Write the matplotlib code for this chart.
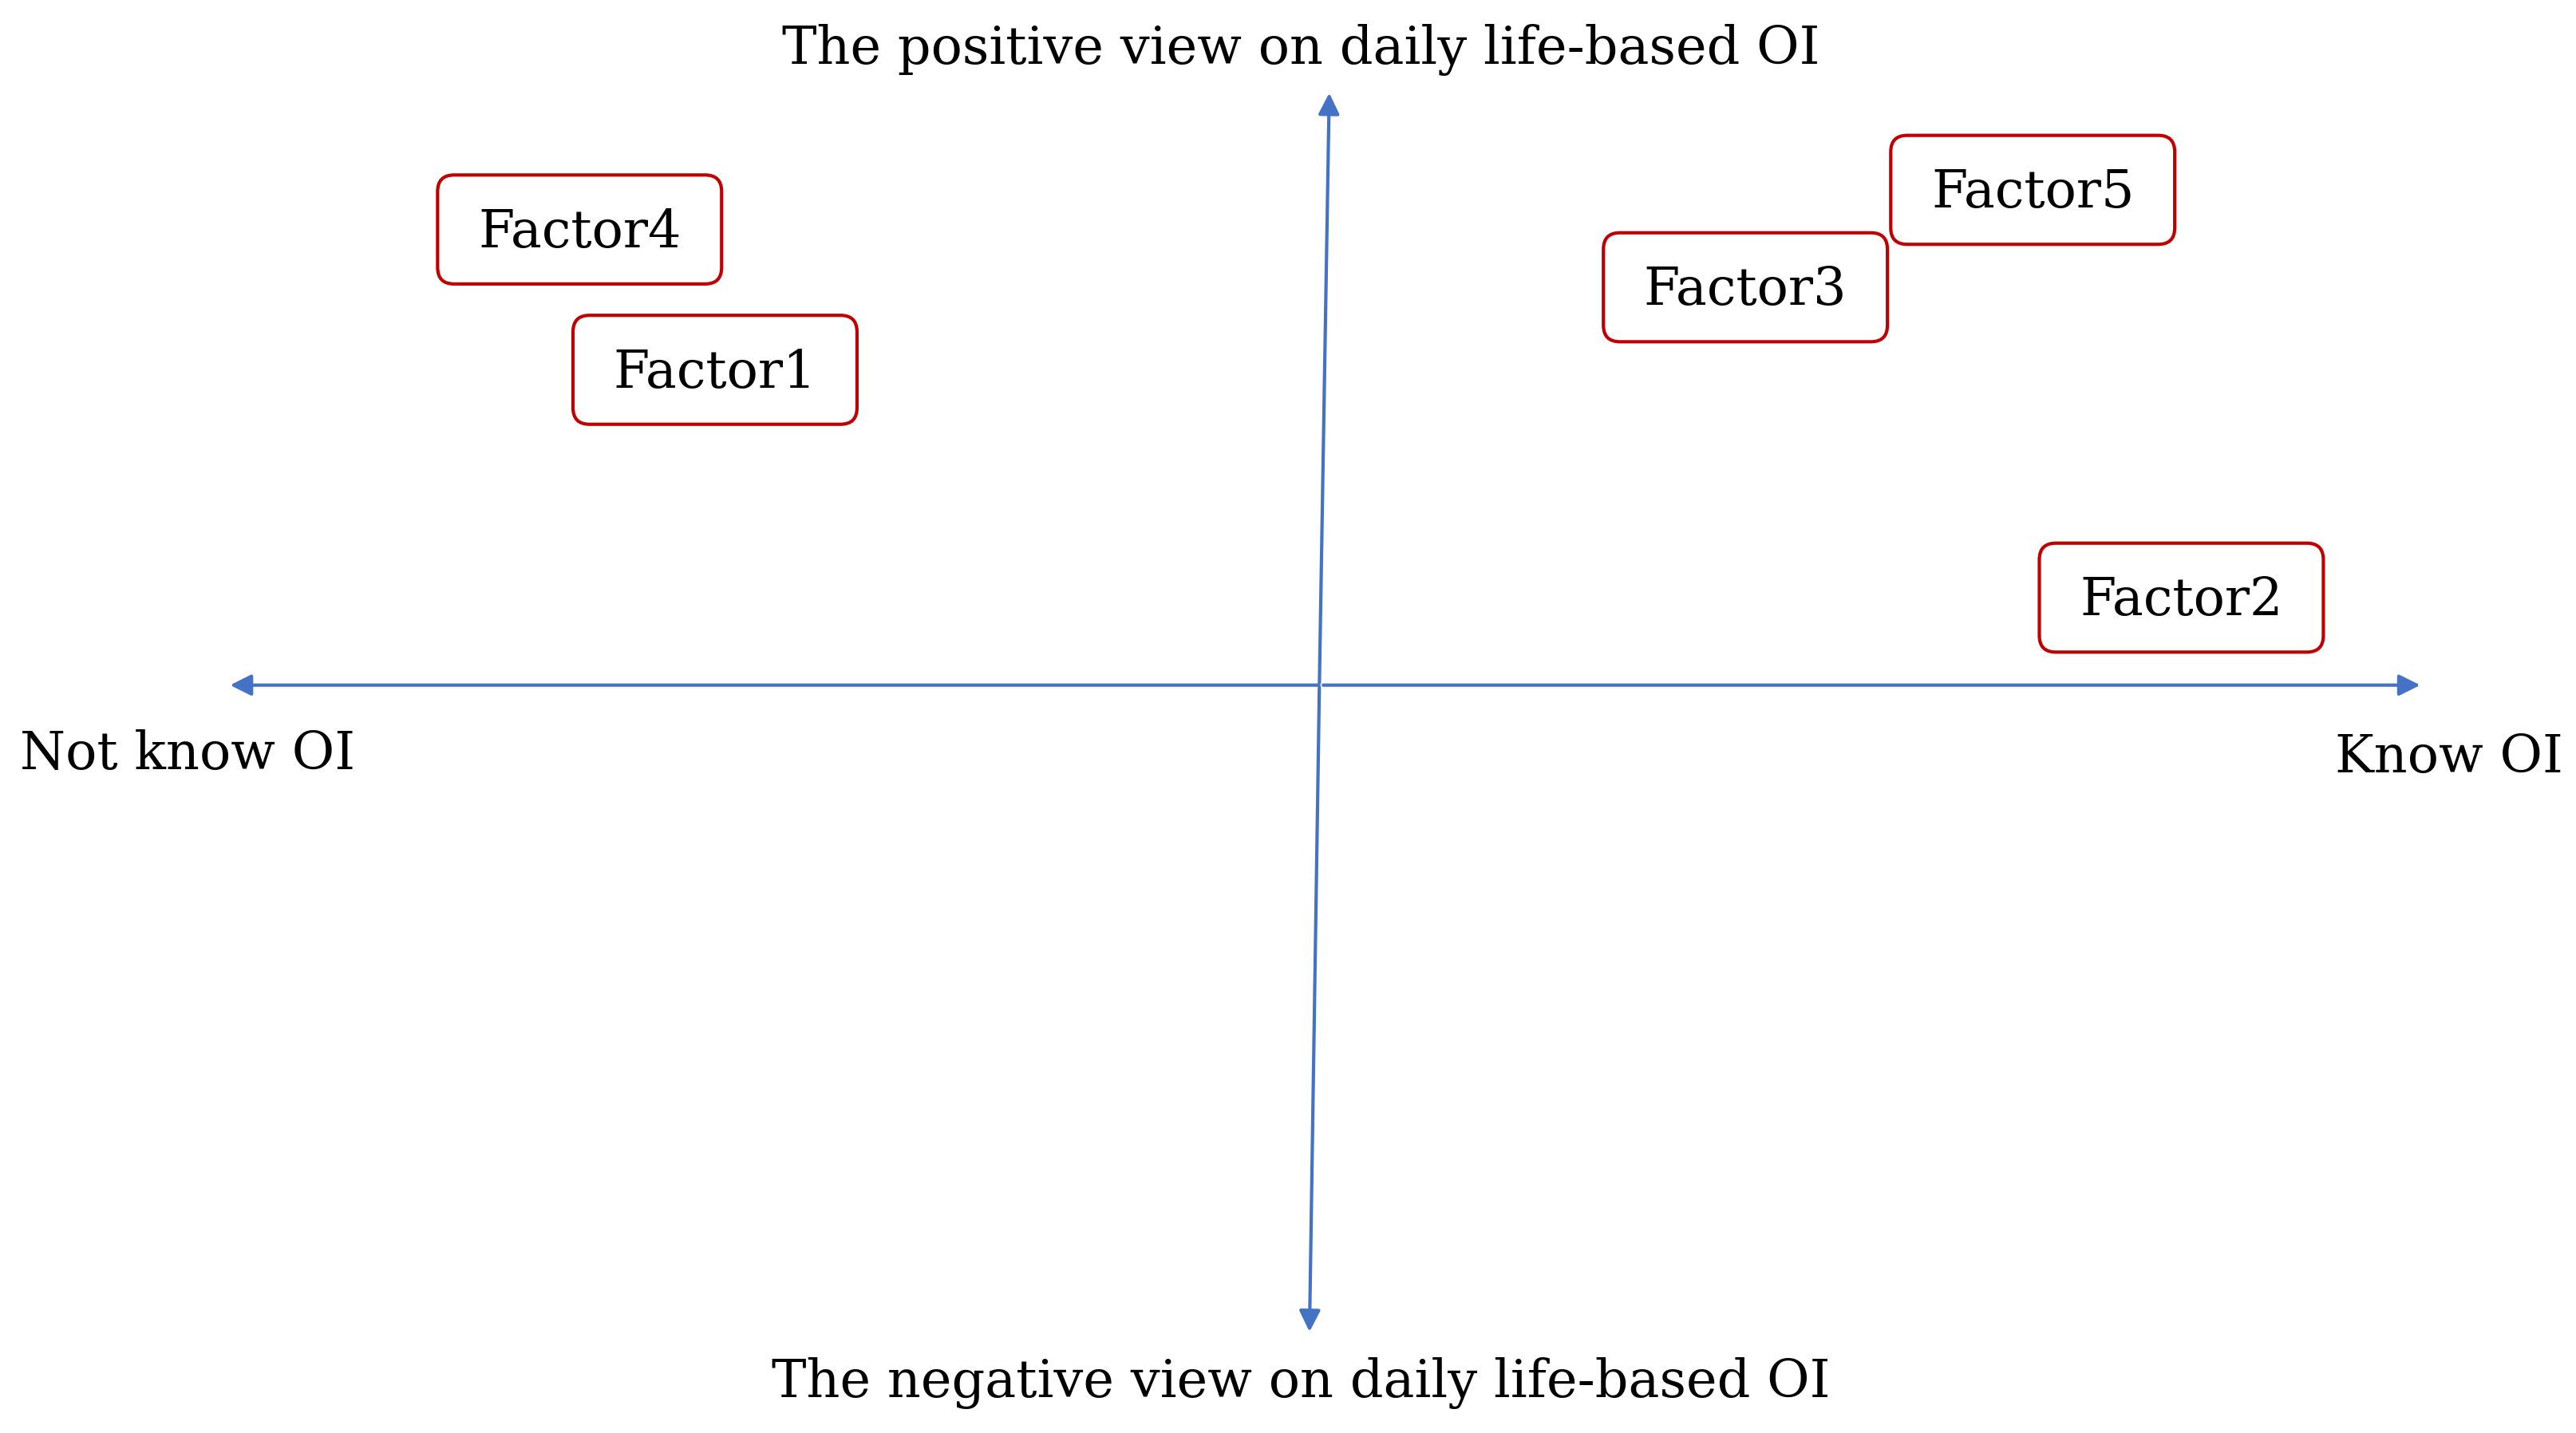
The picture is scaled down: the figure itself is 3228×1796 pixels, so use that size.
import matplotlib.pyplot as plt
from matplotlib.patches import FancyBboxPatch

# factor positions (box centres) in the picture's coordinate frame
factors = ["Factor4", "Factor1", "Factor3", "Factor5", "Factor2"]
fx = [351, 433, 1057, 1231, 1321]
fy = [139, 224, 174, 115, 362]

axis_color = "#4472C4"
box_color = "#C00000"

fig = plt.figure(figsize=(32.28, 17.96), dpi=100)
ax = fig.add_axes([0, 0, 1, 1])
ax.set_xlim(0, 1560)
ax.set_ylim(868, 0)
ax.axis("off")

arrow = dict(arrowstyle="-|>,head_length=1.6,head_width=0.8", color=axis_color, lw=3)
# horizontal axis (double headed)
ax.annotate("", xy=(1467, 415), xytext=(800, 415), arrowprops=arrow)
ax.annotate("", xy=(138, 415), xytext=(800, 415), arrowprops=arrow)
# vertical axis (slightly tilted as in original)
ax.annotate("", xy=(805, 55), xytext=(799, 415), arrowprops=arrow)
ax.annotate("", xy=(793, 808), xytext=(799, 415), arrowprops=arrow)

font = ["DejaVu Serif"]
fs = 47
ax.text(788, 30, "The positive view on daily life-based OI", ha="center", va="center",
        fontsize=fs, family=font)
ax.text(788, 838, "The negative view on daily life-based OI", ha="center", va="center",
        fontsize=fs, family=font)
ax.text(12, 457, "Not know OI", ha="left", va="center", fontsize=fs, family=font)
ax.text(1552, 459, "Know OI", ha="right", va="center", fontsize=fs, family=font)

bw, bh = 172, 66
for name, x, y in zip(factors, fx, fy):
    box = FancyBboxPatch((x - bw / 2, y - bh / 2), bw, bh,
                         boxstyle="round,pad=0,rounding_size=10",
                         fc="white", ec=box_color, lw=3)
    ax.add_patch(box)
    ax.text(x, y + 2, name, ha="center", va="center", fontsize=fs, family=font)

fig.savefig("out.png", dpi=100)
